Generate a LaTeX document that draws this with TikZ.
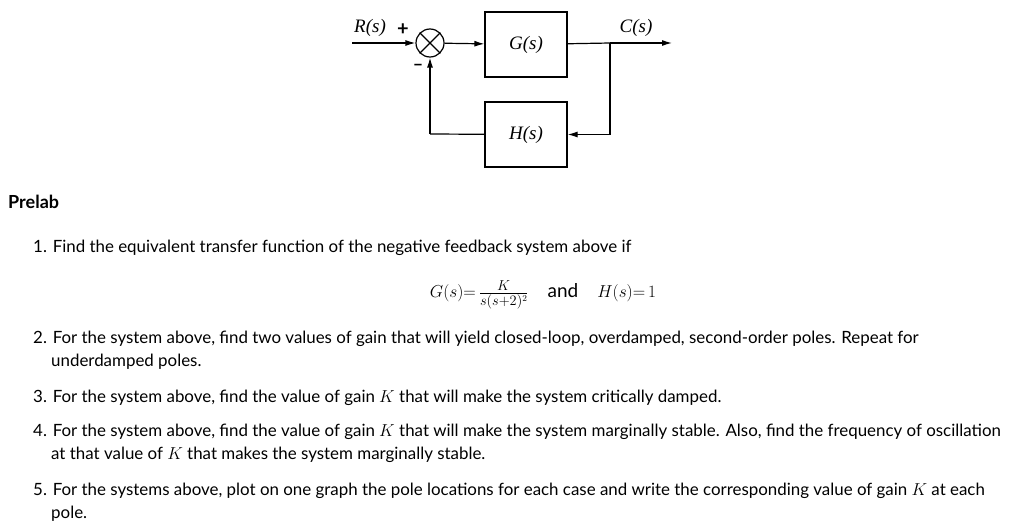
\documentclass[tikz,border=0pt]{standalone}
\usepackage{fontspec}
\setmainfont{Lato}
\usepackage{amsmath}
\newfontfamily\blk{Liberation Serif}
\usetikzlibrary{arrows.meta,positioning}
\tikzset{
  block/.style={draw,line width=1.2pt,minimum width=82pt,minimum height=65pt,font=\blk\itshape\fontsize{19}{19}\selectfont},
  sumnode/.style={draw,circle,line width=1.2pt,minimum size=28pt,inner sep=0pt},
  sig/.style={line width=1.2pt,-{Latex[length=10pt,width=6pt]}},
  line/.style={line width=1.2pt},
  txt/.style={anchor=base west,inner sep=0pt,font=\fontsize{16.9}{20}\selectfont},
  lbl/.style={font=\blk\itshape\fontsize{19}{19}\selectfont,inner sep=0pt}
}
\begin{document}
\begin{tikzpicture}[x=1pt,y=-1pt]
\useasboundingbox (0,0) rectangle (1024,532);
% block diagram
\node[sumnode] (sum) at (430,43) {};
\draw[line width=1.2pt] (sum.north west) -- (sum.south east) (sum.north east) -- (sum.south west);
\node[block] (G) at (526,44.5) {G(s)};
\node[block] (H) at (526,134.5) {H(s)};
\coordinate (in) at (352,43);
\coordinate (br) at (610,43);
\coordinate (out) at (672,43);
\coordinate (fb) at (430,134);
\draw[sig] (in) -- (sum);
\draw[sig] (sum) -- (G);
\draw[line] (G) -- (br);
\draw[sig] (br) -- (out);
\draw[sig] (br) |- (H);
\draw[line] (H) -- (fb);
\draw[sig] (fb) -- (sum);
\node[lbl] (r) at (370,28) {R(s)};
\node[lbl] (c) at (636,28) {C(s)};
\node[inner sep=0pt,font=\bfseries\fontsize{20}{20}\selectfont] (plus) at (403,30) {+};
\node[inner sep=0pt,font=\bfseries\fontsize{18}{18}\selectfont] (minus) at (418,67) {--};
% prelab text
\node[txt,font=\bfseries\fontsize{18}{18}\selectfont] (head) at (8,208) {Prelab};
\node[txt] (l1) at (33,252) {1. Find the equivalent transfer function of the negative feedback system above if};
\node[inner sep=0pt,font=\fontsize{19}{19}\selectfont] (eq) at (543,295) {$G(s){=}\,\frac{K}{s(s+2)^2}\quad\mathrm{and}\quad H(s){=}\,1$};
\node[txt] (l2a) at (33,343) {2. For the system above, find two values of gain that will yield closed-loop, overdamped, second-order poles. Repeat for};
\node[txt] (l2b) at (51,366) {underdamped poles.};
\node[txt] (l3) at (33,402) {3. For the system above, find the value of gain $K$ that will make the system critically damped.};
\node[txt] (l4a) at (33,436) {4. For the system above, find the value of gain $K$ that will make the system marginally stable. Also, find the frequency of oscillation};
\node[txt] (l4b) at (51,459) {at that value of $K$ that makes the system marginally stable.};
\node[txt] (l5a) at (33,495) {5. For the systems above, plot on one graph the pole locations for each case and write the corresponding value of gain $K$ at each};
\node[txt] (l5b) at (51,518) {pole.};
\end{tikzpicture}
\end{document}
